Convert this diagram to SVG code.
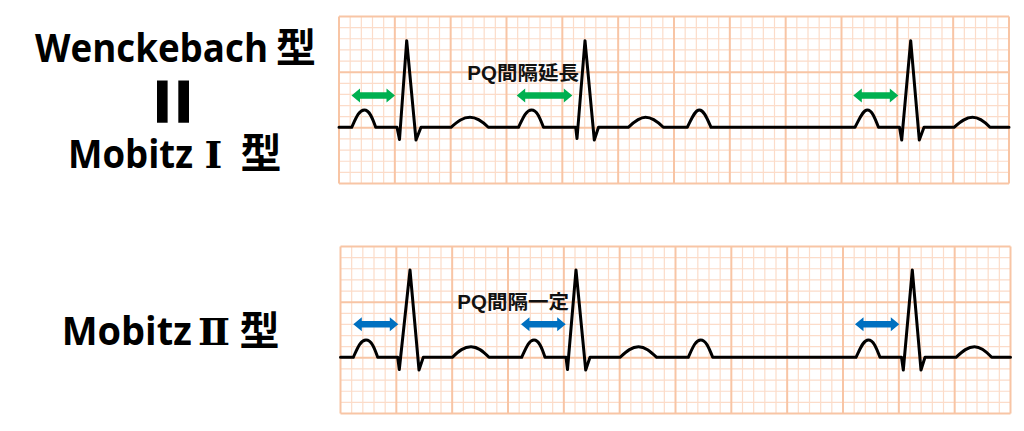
<svg xmlns="http://www.w3.org/2000/svg" xmlns:xlink="http://www.w3.org/1999/xlink" width="1024" height="431" viewBox="0 0 1024 431">
<style>
.minor{fill:none;stroke:#fcdcc9;stroke-width:1.2}
.major{fill:none;stroke:#f8c5a5;stroke-width:2}
.ecg{fill:none;stroke:#000;stroke-width:3;stroke-linejoin:round;stroke-linecap:round}
.ga{fill:#00b050}
.ba{fill:#0070c0}
.title{font-family:"Open Sans","Noto Sans CJK JP",sans-serif;font-weight:bold;fill:#000}
.cjk{font-family:"Noto Sans CJK JP",sans-serif;font-weight:bold;fill:#000}
.roman{font-family:"DejaVu Serif","Noto Sans CJK JP",serif;font-weight:bold;fill:#000}
.lbl{font-family:"Liberation Sans","Noto Sans CJK JP",sans-serif;font-weight:bold;font-size:19.5px;fill:#111}
</style>
<defs>
<g id="grid">
<path class="minor" d="M11.17 0V167M22.33 0V167M33.5 0V167M44.67 0V167M67 0V167M78.17 0V167M89.33 0V167M100.5 0V167M122.83 0V167M134 0V167M145.17 0V167M156.33 0V167M178.67 0V167M189.83 0V167M201 0V167M212.17 0V167M234.5 0V167M245.67 0V167M256.83 0V167M268 0V167M290.33 0V167M301.5 0V167M312.67 0V167M323.83 0V167M346.17 0V167M357.33 0V167M368.5 0V167M379.67 0V167M402 0V167M413.17 0V167M424.33 0V167M435.5 0V167M457.83 0V167M469 0V167M480.17 0V167M491.33 0V167M513.67 0V167M524.83 0V167M536 0V167M547.17 0V167M569.5 0V167M580.67 0V167M591.83 0V167M603 0V167M625.33 0V167M636.5 0V167M647.67 0V167M658.83 0V167M0 11.13H670M0 22.27H670M0 33.4H670M0 44.53H670M0 66.8H670M0 77.93H670M0 89.07H670M0 100.2H670M0 122.47H670M0 133.6H670M0 144.73H670M0 155.87H670"/>
<path class="major" d="M0 0V167M55.83 0V167M111.67 0V167M167.5 0V167M223.33 0V167M279.17 0V167M335 0V167M390.83 0V167M446.67 0V167M502.5 0V167M558.33 0V167M614.17 0V167M670 0V167M0 0H670M0 55.67H670M0 111.33H670M0 167H670"/>
</g>
</defs>
<rect width="1024" height="431" fill="#fff"/>

<g id="title-wenckebach">
<text class="title" x="35" y="61.7" font-size="39" textLength="233" lengthAdjust="spacingAndGlyphs">Wenckebach</text>
<text class="cjk" x="276" y="61.7" font-size="40">型</text>
<text class="title" transform="translate(147,101.7) rotate(90)" font-size="80" text-anchor="middle" stroke="#000" stroke-width="2" style="font-family:'Liberation Sans',sans-serif">=</text>
<text class="title" x="68" y="168.3" font-size="39" textLength="125" lengthAdjust="spacingAndGlyphs">Mobitz</text>
<text class="roman" x="213.3" y="168.3" text-anchor="middle" font-size="38">Ⅰ</text>
<text class="cjk" x="240.5" y="168.3" font-size="41">型</text>
</g>

<g id="panel-wenckebach">
<use xlink:href="#grid" href="#grid" transform="translate(339,16.5)"/>
<path class="ecg" d="M339 127.3H351.7C356 118 359 110 364.3 110C369.5 110 372.5 118 375.7 127.3H397L399.5 139.5L406.7 40.7L416 140L421 127.3H451C458 121 463 117.3 470 117.3C477 117.3 482 121 488.3 127.3H518.5C523 118 526 110 531.5 110C537 110 540 118 543.5 127.3H575.7L577 138.5L585 40.7L594.3 140L598.5 127.3H628.3C635 121 640 117.3 645.5 117.3C652 117.3 657 121 663.3 127.3H687.3C692 118 695 110 699.3 110C704 110 707 118 711 127.3H855C860 118 863 110 867.3 110C872 110 875 118 878.5 127.3H899.5L901.7 140L910.7 40.7L919.3 140L924 127.3H954C961 121 966 117.3 972.5 117.3C979 117.3 984 121 990 127.3H1009"/>
<polygon class="ga" points="351.5,95.5 360,88.5 360,92.3 386.5,92.3 386.5,88.5 395,95.5 386.5,102.5 386.5,98.7 360,98.7 360,102.5"/>
<polygon class="ga" points="516.7,95.5 525.2,88.5 525.2,92.3 563.8,92.3 563.8,88.5 572.3,95.5 563.8,102.5 563.8,98.7 525.2,98.7 525.2,102.5"/>
<polygon class="ga" points="853.3,95.5 861.8,88.5 861.8,92.3 889.8,92.3 889.8,88.5 898.3,95.5 889.8,102.5 889.8,98.7 861.8,98.7 861.8,102.5"/>
<text class="lbl" x="467.3" y="79.7" textLength="111.7" lengthAdjust="spacingAndGlyphs">PQ間隔延長</text>
</g>

<g id="title-mobitz2">
<text class="title" x="61.7" y="345" font-size="39" textLength="130" lengthAdjust="spacingAndGlyphs">Mobitz</text>
<text class="roman" x="214" y="345" text-anchor="middle" font-size="38">Ⅱ</text>
<text class="cjk" x="239.5" y="345" font-size="40">型</text>
</g>

<g id="panel-mobitz2">
<use xlink:href="#grid" href="#grid" transform="translate(340.5,246.5)"/>
<path class="ecg" d="M340.5 357.3H353.3C357.5 348 360.5 340 366 340C371.5 340 374.5 348 377.7 357.3H397.7L399.3 369.5L410 270L419 370L423.3 357.3H452.3C459 351 464 346.7 471 346.7C478 346.7 483 351 489 357.3H521.7C526 348 529 340 534 340C539 340 542 348 545 357.3H566L567.5 369.5L576 270L585.7 370L590 357.3H620C627 351 632 346.7 638.5 346.7C645 346.7 650 351 656.7 357.3H688.3C692.5 348 695.5 340 700.7 340C706 340 709 348 712.7 357.3H856C860.5 348 863.5 340 868.3 340C873.5 340 876.5 348 880 357.3H901.5L903.3 370L912.3 270L921 370L925 357.3H956C963 351 968 346.7 974.5 346.7C981 346.7 986 351 991.7 357.3H1010.5"/>
<polygon class="ba" points="353.3,324.3 361.8,317.3 361.8,321.1 389.8,321.1 389.8,317.3 398.3,324.3 389.8,331.3 389.8,327.5 361.8,327.5 361.8,331.3"/>
<polygon class="ba" points="521,324.3 529.5,317.3 529.5,321.1 557.2,321.1 557.2,317.3 565.7,324.3 557.2,331.3 557.2,327.5 529.5,327.5 529.5,331.3"/>
<polygon class="ba" points="855,324.3 863.5,317.3 863.5,321.1 890.8,321.1 890.8,317.3 899.3,324.3 890.8,331.3 890.8,327.5 863.5,327.5 863.5,331.3"/>
<text class="lbl" x="457.3" y="308.7" textLength="111.7" lengthAdjust="spacingAndGlyphs">PQ間隔一定</text>
</g>
</svg>
